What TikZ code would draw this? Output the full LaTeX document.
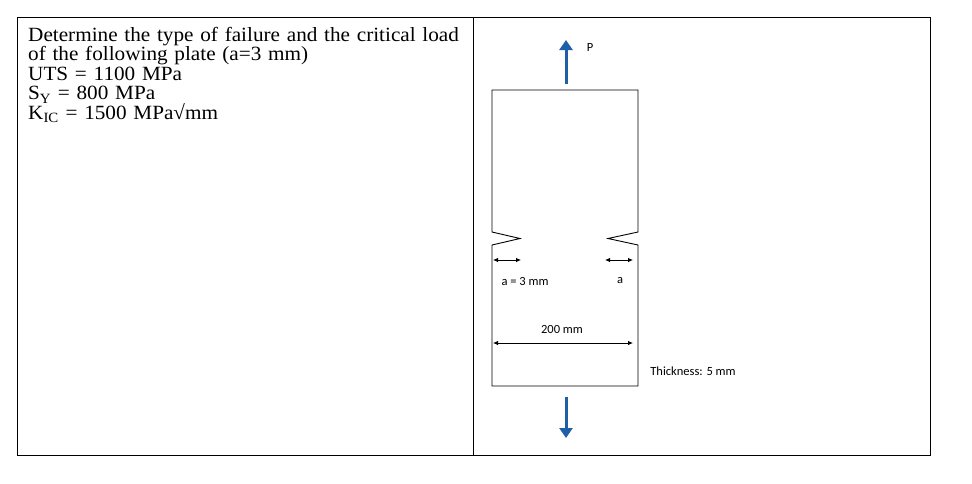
\documentclass[tikz,border=0pt]{standalone}
\usepackage{fontspec}
\setmainfont[FakeStretch=1.05]{Liberation Serif}
\newfontfamily\calib{Carlito}
\usetikzlibrary{arrows.meta}
\definecolor{pblue}{HTML}{1F5FA8}
\tikzset{lbl/.style={font=\calib\fontsize{12.5}{14}\selectfont,inner sep=0pt},
 dim/.style={{Latex[length=5pt,width=4.5pt]}-{Latex[length=5pt,width=4.5pt]},line width=0.8pt},
 load/.style={pblue,line width=3pt,-{Triangle[length=10pt,width=13pt]}}}
\begin{document}
\begin{tikzpicture}[x=1pt,y=-1pt]
\useasboundingbox (0,0) rectangle (972,483);
\draw[line width=1pt] (17,17) rectangle (930,455);
\draw[line width=1pt] (473,17) -- (473,455);
\node[anchor=north west,align=left,inner sep=0pt,font=\fontsize{20.2}{19.5}\selectfont,text width=440pt] (txt) at (28,27)
 {Determine the type of failure and the critical load\\ of the following plate (a=3~mm)\\
 UTS = 1100 MPa\\
 S\textsubscript{Y} = 800 MPa\\
 K\textsubscript{IC} = 1500 MPa√mm};
\draw[line width=0.9pt] (492,90) -- (638,90) -- (638,232) -- (608,238.5) -- (638,245) -- (638,386)
 -- (492,386) -- (492,245) -- (520,238.5) -- (492,232) -- cycle;
\coordinate (t1) at (566,84); \coordinate (t2) at (566,40);
\draw[load] (t1) -- (t2);
\node[lbl] (P) at (590,47) {P};
\coordinate (b1) at (566,397); \coordinate (b2) at (566,438);
\draw[load] (b1) -- (b2);
\coordinate (la) at (493,260); \coordinate (lb) at (521,260);
\draw[dim] (la) -- (lb);
\coordinate (ra) at (605,260); \coordinate (rb) at (633,260);
\draw[dim] (ra) -- (rb);
\node[lbl] (a1) at (525,281) {a = 3 mm};
\node[lbl] (a2) at (620,281) {a};
\node[lbl] (w) at (562,329) {200 mm};
\coordinate (wa) at (493,343); \coordinate (wb) at (633,343);
\draw[dim] (wa) -- (wb);
\node[lbl] (th) at (693,371) {Thickness: 5 mm};
\end{tikzpicture}
\end{document}
